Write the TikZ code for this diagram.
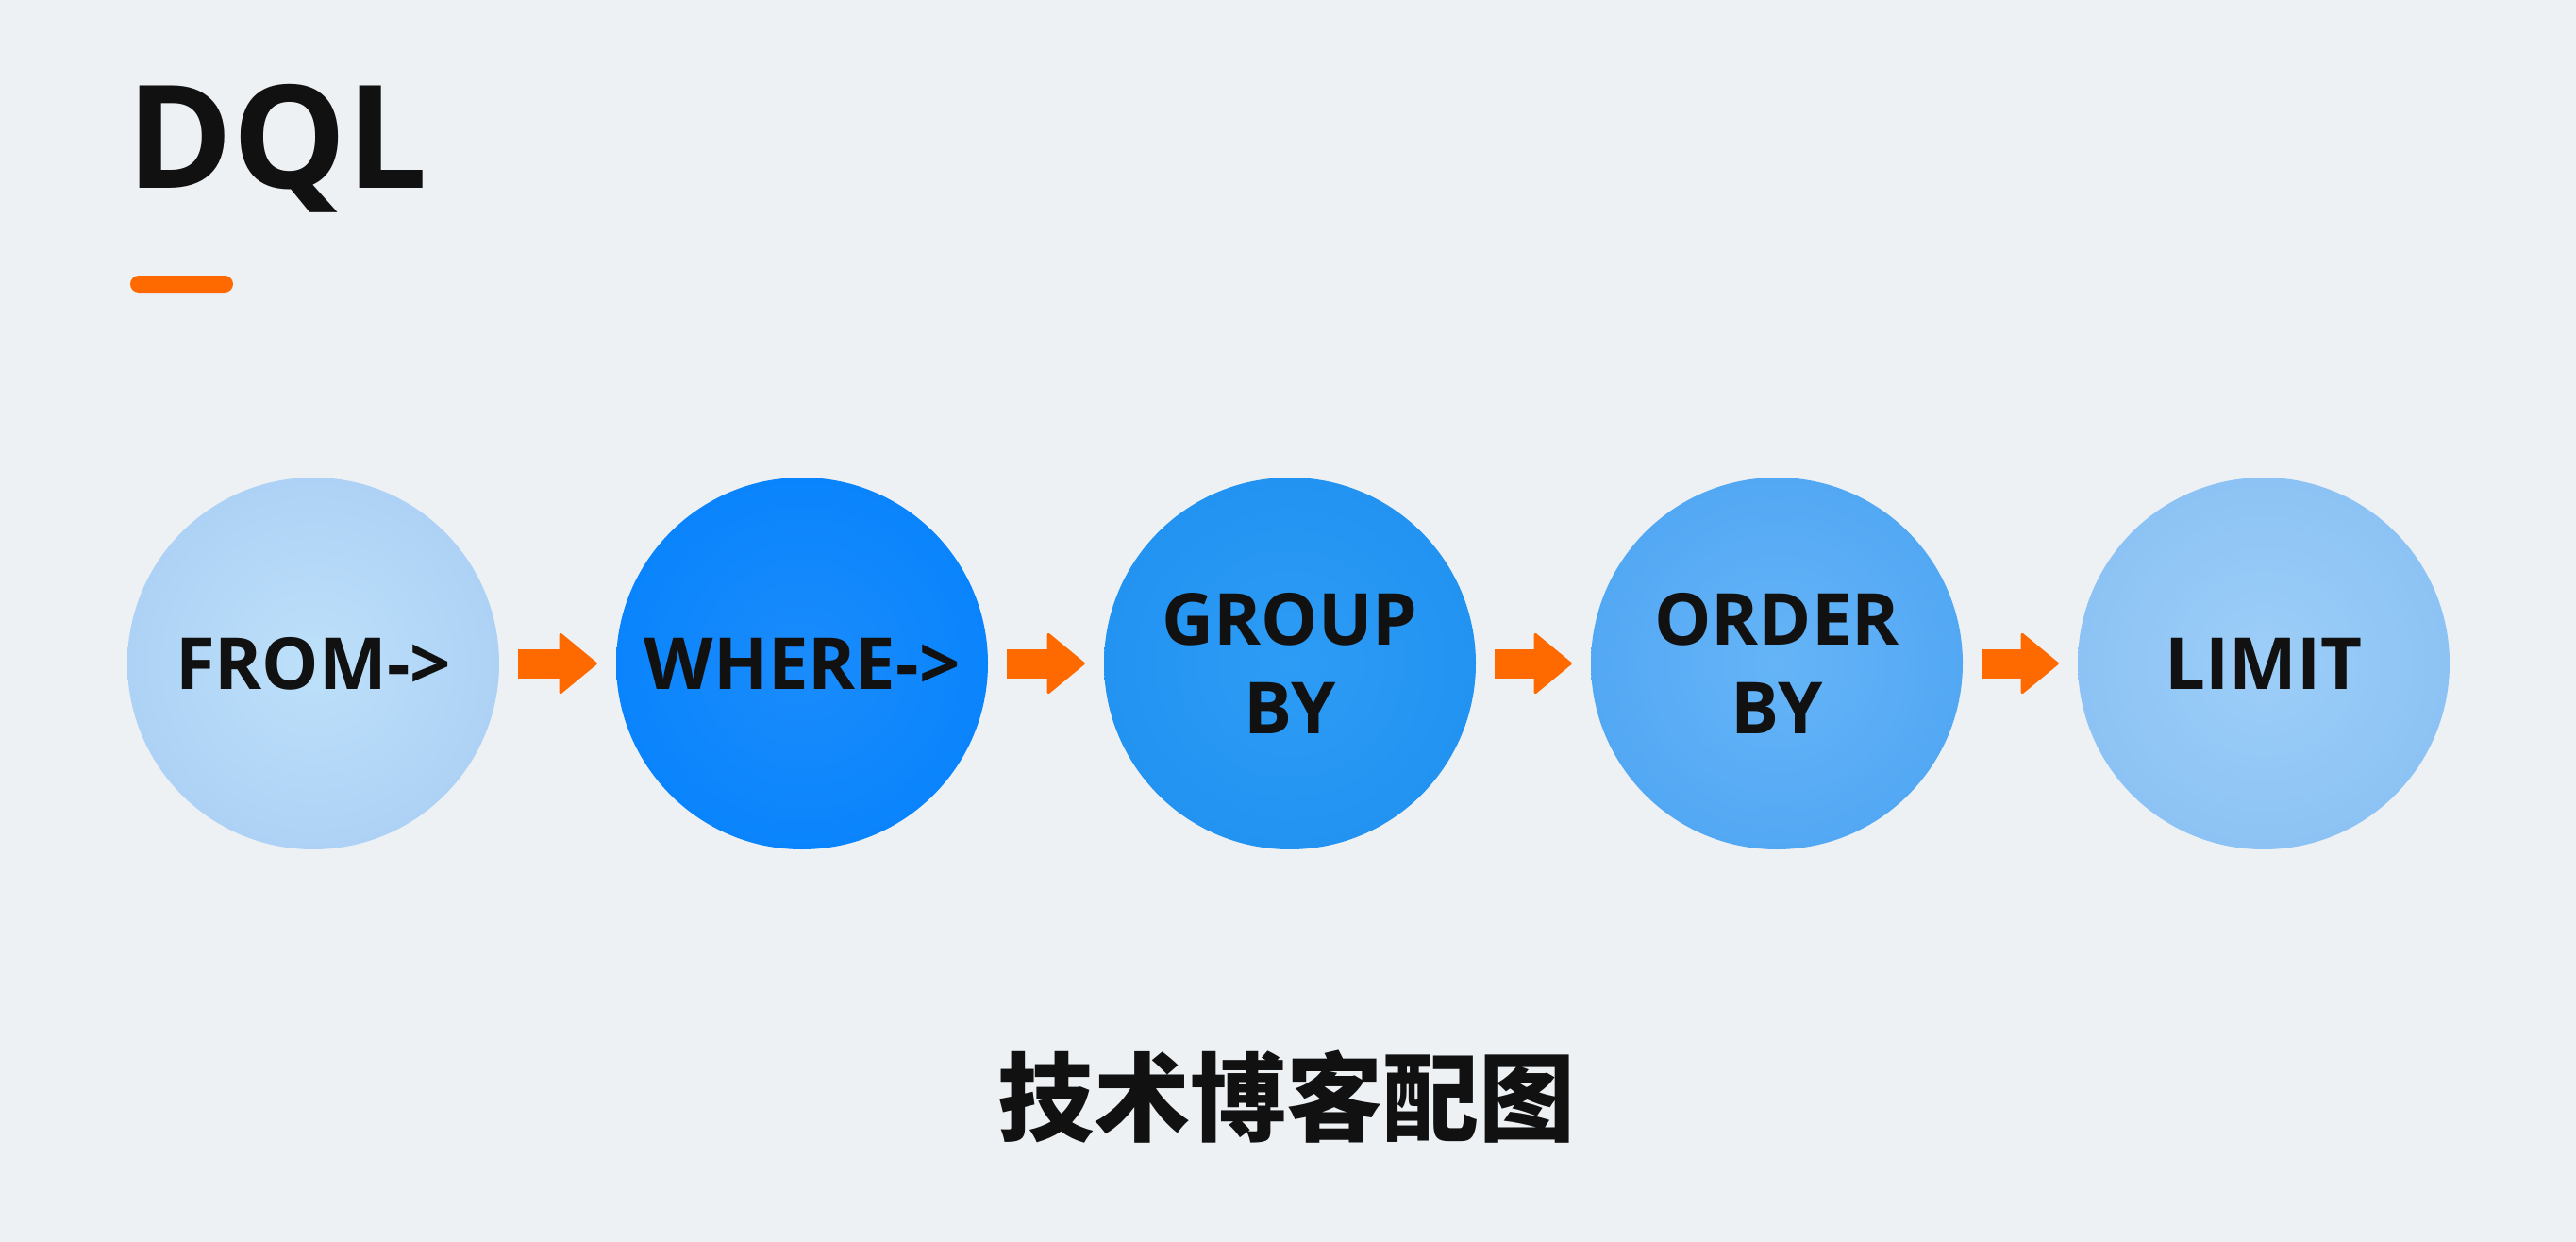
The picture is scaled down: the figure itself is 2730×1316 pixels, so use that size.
\documentclass[tikz,border=0pt]{standalone}
\usepackage{fontspec}
\setmainfont{Open Sans}
\newfontfamily\cjk{Noto Sans CJK SC}
\usetikzlibrary{arrows.meta}
\definecolor{bg}{HTML}{EEF1F4}
\definecolor{accent}{HTML}{FF6A00}
\definecolor{ink}{HTML}{111111}
\definecolor{cA}{HTML}{ADD2F5}
\definecolor{cAin}{HTML}{BDE0FA}
\definecolor{cB}{HTML}{0A84FC}
\definecolor{cBin}{HTML}{1A8CFC}
\definecolor{cC}{HTML}{2393F2}
\definecolor{cCin}{HTML}{2C9CF5}
\definecolor{cD}{HTML}{53A8F4}
\definecolor{cDin}{HTML}{65B4F7}
\definecolor{cE}{HTML}{8CC3F4}
\definecolor{cEin}{HTML}{9DCEF8}
\begin{document}
\begin{tikzpicture}[x=1pt,y=-1pt,
  stage/.style={circle, minimum size=394pt, inner sep=0pt, text=ink,
    align=center, font=\fontsize{76}{94}\selectfont\bfseries},
  flow/.style={draw=accent, line width=31pt,
    -{Triangle[length=41pt, width=67pt, line width=3pt, round]},
    shorten <=20pt, shorten >=20pt},
  title/.style={text=ink, inner sep=0pt, font=\fontsize{152}{160}\selectfont\bfseries},
  footer/.style={text=ink, inner sep=0pt, font=\cjk\bfseries\fontsize{102}{110}\selectfont}
]
\useasboundingbox (0,0) rectangle (2730,1316);
\fill[bg] (0,0) rectangle (2730,1316);

% title
\node[title, anchor=base west] (dql) at (134,200) {DQL};
\fill[accent, rounded corners=9pt] (138,292) rectangle (247,310);

% stages
\node[stage, inner color=cAin, outer color=cA] (from) at (332,703) {FROM->};
\node[stage, inner color=cBin, outer color=cB] (where) at (850,703) {WHERE->};
\node[stage, inner color=cCin, outer color=cC] (group) at (1367,703) {GROUP\\BY};
\node[stage, inner color=cDin, outer color=cD] (order) at (1883,703) {ORDER\\BY};
\node[stage, inner color=cEin, outer color=cE] (limit) at (2399,703) {LIMIT};

% connectors
\draw[flow] (from) -- (where);
\draw[flow] (where) -- (group);
\draw[flow] (group) -- (order);
\draw[flow] (order) -- (limit);

% footer
\node[footer] (foot) at (1363,1162) {技术博客配图};
\end{tikzpicture}
\end{document}
